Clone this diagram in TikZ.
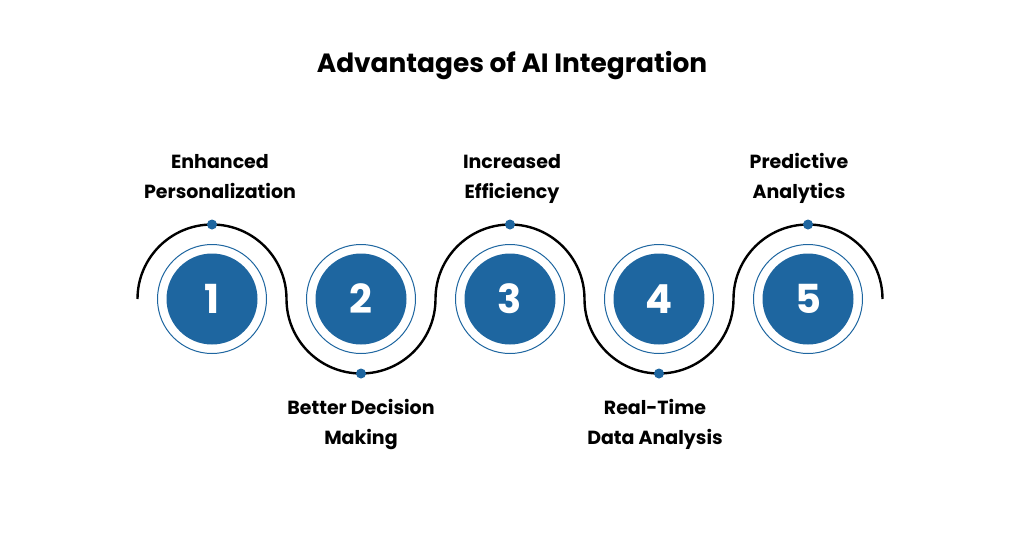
\documentclass[tikz,border=0pt]{standalone}
\usepackage{fontspec}
\setmainfont{Poppins}
\definecolor{aiblue}{HTML}{1E66A0}
\begin{document}
\begin{tikzpicture}
[x=0.5pt, y=-0.5pt, thick,
 label/.style={align=center, font=\fontsize{9.5}{15}\selectfont\bfseries},
 ring/.style={circle, draw=aiblue, line width=0.5pt, minimum size=54.5pt, inner sep=0pt},
 disc/.style={circle, fill=aiblue, minimum size=45.5pt, inner sep=0pt, text=white,
   font=\fontsize{20}{20}\selectfont\bfseries},
 dot/.style={circle, fill=aiblue, minimum size=5pt, inner sep=0pt}]
  \useasboundingbox (0,0) rectangle (1024,536);
  \node[font=\fontsize{13.2}{16}\selectfont\bfseries] (title) at (512,66) {Advantages of AI Integration};
  % wavy line
  \draw[line width=1.2pt] (137.5,299)
    arc[start angle=180, end angle=360, radius=74.5]
    arc[start angle=180, end angle=0, radius=74.5]
    arc[start angle=180, end angle=360, radius=74.5]
    arc[start angle=180, end angle=0, radius=74.5]
    arc[start angle=180, end angle=360, radius=74.5];
  \foreach \i/\x in {1/212,2/361,3/510,4/659,5/808}
  {
    \node[ring] (r\i) at (\x,299) {};
    \node[disc] (c\i) at (\x,299) {\i};
  }
  \foreach \i/\x/\y in {1/212/224.5,2/361/373.5,3/510/224.5,4/659/373.5,5/808/224.5}
    \node[dot] (d\i) at (\x,\y) {};
  \node[label] (t1) at (220,177) {Enhanced\\Personalization};
  \node[label] (t2) at (361,424) {Better Decision\\Making};
  \node[label] (t3) at (512,179) {Increased\\Efficiency};
  \node[label] (t4) at (655,424) {Real-Time\\Data Analysis};
  \node[label] (t5) at (799,178) {Predictive\\Analytics};
\end{tikzpicture}
\end{document}
